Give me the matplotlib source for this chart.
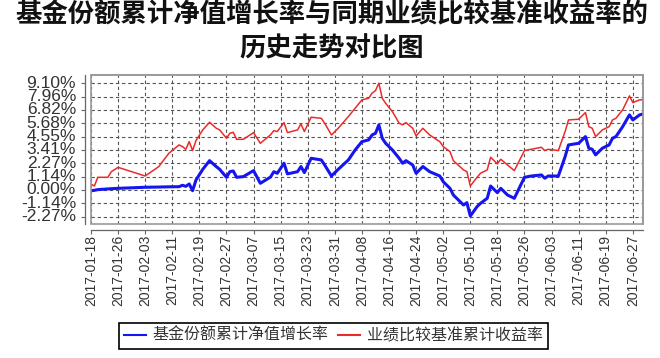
import numpy as np
import pandas as pd
import matplotlib.pyplot as plt
import matplotlib.transforms as mtransforms
from matplotlib.patches import Rectangle

plt.rcParams['font.family'] = ['Noto Sans CJK SC', 'DejaVu Sans']

dates = ['2017-01-18', '2017-01-19', '2017-01-20', '2017-01-23', '2017-01-24',
         '2017-01-26', '2017-02-03', '2017-02-07', '2017-02-10', '2017-02-13',
         '2017-02-14', '2017-02-15', '2017-02-16', '2017-02-17', '2017-02-18',
         '2017-02-20', '2017-02-22', '2017-02-24', '2017-02-25', '2017-02-27',
         '2017-02-28', '2017-03-01', '2017-03-02', '2017-03-04', '2017-03-07',
         '2017-03-09', '2017-03-12', '2017-03-13', '2017-03-14', '2017-03-16',
         '2017-03-17', '2017-03-20', '2017-03-21', '2017-03-22', '2017-03-24',
         '2017-03-27', '2017-03-28', '2017-03-30', '2017-04-01', '2017-04-04',
         '2017-04-06', '2017-04-08', '2017-04-10', '2017-04-11', '2017-04-12',
         '2017-04-13', '2017-04-14', '2017-04-15', '2017-04-17', '2017-04-19',
         '2017-04-20', '2017-04-21', '2017-04-23', '2017-04-24', '2017-04-26',
         '2017-04-28', '2017-05-01', '2017-05-02', '2017-05-04', '2017-05-05',
         '2017-05-08', '2017-05-09', '2017-05-10', '2017-05-12', '2017-05-13',
         '2017-05-15', '2017-05-16', '2017-05-18', '2017-05-19', '2017-05-21',
         '2017-05-23', '2017-05-26', '2017-05-28', '2017-05-31', '2017-06-01',
         '2017-06-02', '2017-06-05', '2017-06-07', '2017-06-08', '2017-06-11',
         '2017-06-13', '2017-06-14', '2017-06-15', '2017-06-16', '2017-06-18',
         '2017-06-20', '2017-06-21', '2017-06-22', '2017-06-24', '2017-06-26',
         '2017-06-27', '2017-06-29', '2017-06-30']

# 基金份额累计净值增长率 (%)
fund = [-0.06, -0.03, 0.03, 0.09, 0.11, 0.14, 0.23, 0.25, 0.27, 0.28,
        0.40, 0.31, 0.51, -0.06, 0.85, 1.76, 2.50, 1.99, 1.76, 1.08,
        1.56, 1.62, 1.08, 1.14, 1.65, 0.57, 1.10, 1.56, 1.42, 2.28,
        1.37, 1.56, 2.00, 1.48, 2.70, 2.56, 2.13, 1.19, 1.76, 2.56,
        3.41, 4.12, 4.27, 4.69, 4.83, 5.55, 4.41, 3.98, 3.41, 2.70,
        2.28, 2.50, 2.13, 1.42, 2.00, 1.56, 1.19, 0.71, 0.14, -0.43,
        -1.28, -1.08, -2.22, -1.42, -1.14, -0.71, 0.34, -0.23, 0.14, -0.43,
        -0.71, 1.08, 1.19, 1.28, 1.00, 1.19, 1.19, 2.84, 3.84, 3.98,
        4.55, 3.56, 3.47, 2.99, 3.56, 3.84, 4.41, 4.55, 5.40, 6.40,
        5.97, 6.40, 6.48]

# 业绩比较基准累计收益率 (%)
bench = [0.51, 0.34, 1.08, 1.08, 1.56, 1.93, 1.19, 1.99, 3.13, 3.84,
         3.70, 3.47, 4.12, 3.36, 4.21, 5.12, 5.77, 5.26, 5.12, 4.41,
         4.83, 4.92, 4.32, 4.32, 4.89, 3.98, 4.70, 5.06, 4.98, 5.74,
         4.89, 5.12, 5.63, 4.98, 6.20, 6.11, 5.69, 4.69, 5.26, 6.26,
         6.97, 7.68, 7.82, 8.25, 8.47, 9.10, 7.82, 7.39, 6.68, 5.69,
         5.55, 5.74, 5.26, 4.61, 5.26, 4.69, 4.12, 3.70, 3.27, 2.50,
         1.71, 1.56, 0.34, 1.08, 1.42, 1.71, 2.79, 2.22, 2.62, 2.13,
         1.65, 3.36, 3.47, 3.64, 3.36, 3.47, 3.36, 4.98, 5.97, 6.03,
         6.60, 5.40, 5.26, 4.55, 5.12, 5.40, 5.97, 6.11, 6.83, 8.02,
         7.45, 7.68, 7.68]

ytick_vals = [-2.275, -1.1375, 0.0, 1.1375, 2.275, 3.4125, 4.55, 5.6875,
              6.825, 7.9625, 9.1]
ytick_labels = ['-2.27%', '-1.14%', '0.00%', '1.14%', '2.27%', '3.41%',
                '4.55%', '5.68%', '6.82%', '7.96%', '9.10%']
xtick_dates = pd.date_range('2017-01-18', '2017-06-27', freq='8D')
xtick_labels = [d.strftime('%Y-%m-%d') for d in xtick_dates]

title = '基金份额累计净值增长率与同期业绩比较基准收益率的\n历史走势对比图'
name_fund = '基金份额累计净值增长率'
name_bench = '业绩比较基准累计收益率'

x = pd.to_datetime(dates)
ylo, yhi = -2.9, 9.8

fig = plt.figure(figsize=(6.6, 3.58), dpi=100)
ax = fig.add_axes([91 / 660, 1 - 224 / 358, 552 / 660, 149 / 358])
ax.patch.set_visible(False)

# dashed grid, one line per tick
for v in ytick_vals:
    ax.plot([x[0], x[-1]], [v, v], color='#555555', lw=0.8, ls='--',
            dashes=(3, 2.5), zorder=2)
for d in xtick_dates:
    ax.plot([d, d], [ylo, yhi], color='#555555', lw=0.8, ls='--',
            dashes=(3, 2.5), zorder=2)

ax.plot(x, bench, color='#ec2a2a', lw=1.1, label=name_bench, zorder=3)
ax.plot(x, fund, color='#1515f0', lw=2.2, label=name_fund, zorder=4)

ax.set_xlim(x[0], x[-1])
ax.set_ylim(ylo, yhi)

ax.set_yticks(ytick_vals)
ax.set_xticks(xtick_dates)
ax.set_yticklabels([])
ax.set_xticklabels([])
ax.tick_params(axis='both', direction='out', length=3, width=0.8,
               color='#666666')

# tick labels as explicit texts
ytrans = mtransforms.offset_copy(ax.get_yaxis_transform(), fig=fig,
                                 x=-15, y=0, units='dots')
for v, s in zip(ytick_vals, ytick_labels):
    ax.text(0, v, s, transform=ytrans, ha='right', va='center',
            fontsize=12.5, family='Liberation Sans', color='#333333')
xtrans = mtransforms.offset_copy(ax.get_xaxis_transform(), fig=fig,
                                 x=0, y=-11, units='dots')
for d, s in zip(xtick_dates, xtick_labels):
    ax.text(d, 0, s, transform=xtrans, ha='center', va='top', rotation=90,
            fontsize=10, family='Liberation Sans', color='#333333')

# offset axis lines + grey plot frame
for s in ['left', 'bottom']:
    ax.spines[s].set_position(('outward', 4))
    ax.spines[s].set_color('#666666')
    ax.spines[s].set_linewidth(0.9)
for s in ['top', 'right']:
    ax.spines[s].set_color('#999999')
    ax.spines[s].set_linewidth(1.2)
ax.add_patch(Rectangle((0, 0), 1, 1, transform=ax.transAxes, fill=False,
                       ec='#999999', lw=1.2, clip_on=False, zorder=5))

fig.text(0.503, 0.995, title, ha='center', va='top', fontsize=19,
         fontweight='bold', linespacing=1.3, color='#111111')

h, l = ax.get_legend_handles_labels()
leg = fig.legend(h[::-1], l[::-1], loc='center', bbox_to_anchor=(0.505, 0.062),
                 ncol=2, fontsize=11.5, frameon=True, fancybox=False,
                 handlelength=1.4, handletextpad=0.4, columnspacing=0.6,
                 borderpad=0.3)
leg.get_frame().set_edgecolor('black')
leg.get_frame().set_linewidth(1.2)
leg.get_frame().set_alpha(1)
for t in leg.get_texts():
    t.set_color('#333333')
for ln in leg.get_lines():
    ln.set_linewidth(1.5)

fig.savefig('out.png', dpi=100)
